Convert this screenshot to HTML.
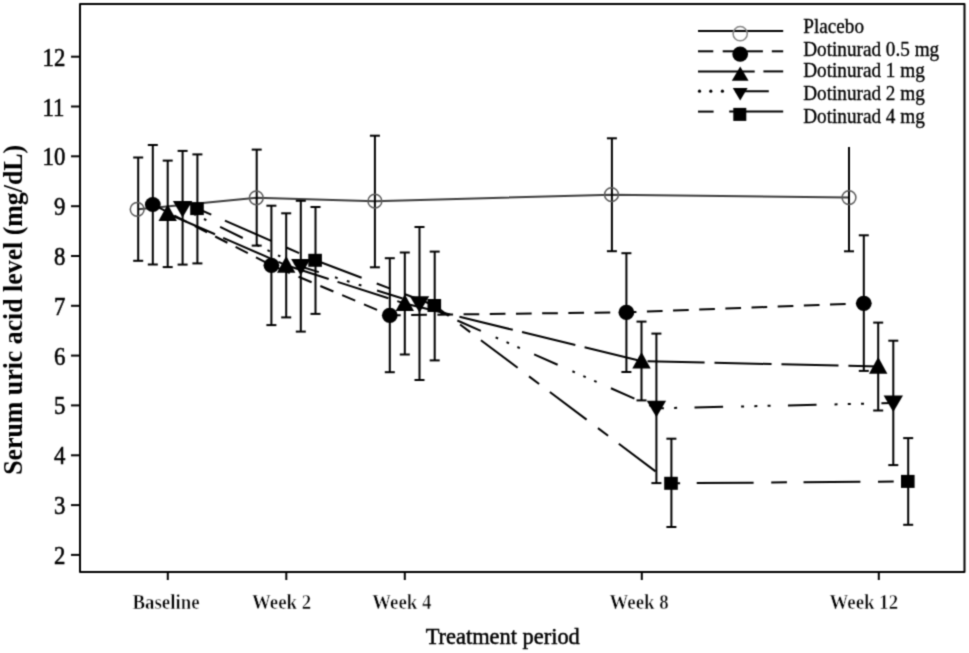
<!DOCTYPE html>
<html><head><meta charset="utf-8"><style>html,body{margin:0;padding:0;background:#fff;overflow:hidden}svg{display:block}</style></head>
<body>
<svg width="969" height="653" viewBox="0 0 969 653">
<defs><filter id="sf" color-interpolation-filters="sRGB" filterUnits="userSpaceOnUse" x="0" y="0" width="969" height="653"><feConvolveMatrix order="3" kernelMatrix="0.0324 0.1152 0.0324 0.1152 0.4096 0.1152 0.0324 0.1152 0.0324" divisor="1" edgeMode="duplicate"/></filter></defs>
<g filter="url(#sf)">
<rect width="969" height="653" fill="#fff"/>
<polyline points="138.2,209.3 256.7,197.8 374.9,201.2 611.9,194.7 849.0,197.6" fill="none" stroke="#3c3c3c" stroke-width="2"/>
<path d="M154.05 205.14L166.27 211.40M174.44 215.59L186.65 221.86M194.82 226.04L207.04 232.31M215.21 236.49L227.43 242.76M235.60 246.95L247.81 253.21M255.98 257.40L268.20 263.66M276.72 267.54L289.79 273.07M298.53 276.76L311.61 282.28M320.35 285.97L333.42 291.49M342.16 295.18L355.24 300.70M363.98 304.40L377.05 309.92M385.80 313.61L389.80 315.30M389.80 315.30L400.69 315.16M411.19 315.03L426.88 314.83M437.38 314.70L453.08 314.50M463.58 314.36L479.27 314.17M489.77 314.03L505.47 313.83M515.97 313.70L531.66 313.50M542.16 313.37L557.86 313.17M568.36 313.04L584.05 312.84M594.55 312.70L610.25 312.50M620.75 312.37L626.40 312.30M626.40 312.30L636.43 311.92M646.91 311.52L662.58 310.93M673.06 310.53L688.73 309.94M699.22 309.54L714.89 308.95M725.37 308.55L741.04 307.95M751.52 307.56L767.19 306.96M777.68 306.57L793.35 305.97M803.83 305.57L819.50 304.98M829.98 304.58L845.65 303.99M856.14 303.59L863.80 303.30" fill="none" stroke="#000" stroke-width="2"/>
<path d="M167.97 213.72L215.03 234.25M223.19 237.81L270.26 258.34M278.42 261.90L286.20 265.30M286.20 265.30L328.70 278.99M337.53 281.83L388.45 298.24M397.28 301.08L404.80 303.50M404.80 303.50L450.24 314.58M459.48 316.83L512.79 329.82M522.03 332.08L575.34 345.07M584.58 347.32L637.89 360.32M647.53 361.33L704.59 362.59M714.49 362.80L771.55 364.06M781.45 364.27L838.51 365.53M848.41 365.75L878.20 366.40" fill="none" stroke="#000" stroke-width="2"/>
<path d="M183.00 208.70L185.38 209.86M193.49 213.84L195.86 215.01M203.97 218.99L206.35 220.15M220.11 226.91L242.75 238.01M256.99 245.00L259.36 246.17M267.47 250.15L269.85 251.31M277.96 255.29L280.33 256.46M294.10 263.21L300.80 266.50M300.80 266.50L318.84 272.17M334.98 277.24L337.66 278.08M346.85 280.97L349.54 281.82M358.73 284.70L361.42 285.55M377.01 290.45L402.64 298.50M418.78 303.57L419.50 303.80M419.50 303.80L421.30 304.59M429.72 308.31L432.18 309.39M440.60 313.11L443.06 314.19M457.35 320.50L480.84 330.86M495.63 337.38L498.09 338.47M506.51 342.18L508.97 343.27M517.39 346.98L519.85 348.07M534.14 354.37L557.63 364.73M572.42 371.25L574.88 372.34M583.30 376.05L585.76 377.14M594.18 380.85L596.64 381.94M610.93 388.24L634.42 398.61M649.21 405.13L651.67 406.21M660.89 408.20L663.89 408.14M674.13 407.91L677.13 407.84M694.52 407.46L723.10 406.84M741.09 406.44L744.09 406.38M754.33 406.15L757.33 406.08M767.58 405.86L770.57 405.79M787.96 405.41L816.55 404.78M834.54 404.39L837.53 404.32M847.78 404.10L850.78 404.03M861.02 403.81L864.02 403.74M881.41 403.36L893.30 403.10" fill="none" stroke="#000" stroke-width="2"/>
<path d="M198.35 209.01L211.27 214.67M224.94 220.66L271.79 241.16M286.28 247.51L299.20 253.17M312.87 259.15L315.50 260.30M315.50 260.30L361.61 277.78M376.72 283.51L390.20 288.63M404.45 294.03L434.70 305.50M434.70 305.50L448.69 316.01M460.05 324.54L470.19 332.16M480.90 340.21L517.64 367.80M529.00 376.34L539.14 383.95M549.85 392.00L586.59 419.59M597.95 428.13L608.09 435.74M618.80 443.79L655.54 471.38M666.90 479.92L671.40 483.30M671.40 483.30L680.13 483.23M696.72 483.10L753.62 482.64M771.22 482.50L786.92 482.37M803.52 482.24L860.41 481.78M878.01 481.64L893.71 481.52" fill="none" stroke="#000" stroke-width="2"/>
<line x1="138.2" y1="157.5" x2="138.2" y2="260.8" stroke="#000" stroke-width="2"/>
<line x1="133.2" y1="157.5" x2="143.2" y2="157.5" stroke="#000" stroke-width="2"/>
<line x1="133.2" y1="260.8" x2="143.2" y2="260.8" stroke="#000" stroke-width="2"/>
<line x1="256.7" y1="149.6" x2="256.7" y2="245.6" stroke="#000" stroke-width="2"/>
<line x1="251.7" y1="149.6" x2="261.7" y2="149.6" stroke="#000" stroke-width="2"/>
<line x1="251.7" y1="245.6" x2="261.7" y2="245.6" stroke="#000" stroke-width="2"/>
<line x1="374.9" y1="135.7" x2="374.9" y2="267.3" stroke="#000" stroke-width="2"/>
<line x1="369.9" y1="135.7" x2="379.9" y2="135.7" stroke="#000" stroke-width="2"/>
<line x1="369.9" y1="267.3" x2="379.9" y2="267.3" stroke="#000" stroke-width="2"/>
<line x1="611.9" y1="138.3" x2="611.9" y2="251.2" stroke="#000" stroke-width="2"/>
<line x1="606.9" y1="138.3" x2="616.9" y2="138.3" stroke="#000" stroke-width="2"/>
<line x1="606.9" y1="251.2" x2="616.9" y2="251.2" stroke="#000" stroke-width="2"/>
<line x1="849.0" y1="147.0" x2="849.0" y2="251.3" stroke="#000" stroke-width="2"/>
<line x1="844.0" y1="251.3" x2="854.0" y2="251.3" stroke="#000" stroke-width="2"/>
<line x1="152.8" y1="145.0" x2="152.8" y2="264.5" stroke="#000" stroke-width="2"/>
<line x1="147.8" y1="145.0" x2="157.8" y2="145.0" stroke="#000" stroke-width="2"/>
<line x1="147.8" y1="264.5" x2="157.8" y2="264.5" stroke="#000" stroke-width="2"/>
<line x1="271.4" y1="205.7" x2="271.4" y2="325.1" stroke="#000" stroke-width="2"/>
<line x1="266.4" y1="205.7" x2="276.4" y2="205.7" stroke="#000" stroke-width="2"/>
<line x1="266.4" y1="325.1" x2="276.4" y2="325.1" stroke="#000" stroke-width="2"/>
<line x1="389.8" y1="258.2" x2="389.8" y2="372.2" stroke="#000" stroke-width="2"/>
<line x1="384.8" y1="258.2" x2="394.8" y2="258.2" stroke="#000" stroke-width="2"/>
<line x1="384.8" y1="372.2" x2="394.8" y2="372.2" stroke="#000" stroke-width="2"/>
<line x1="626.4" y1="253.2" x2="626.4" y2="372.0" stroke="#000" stroke-width="2"/>
<line x1="621.4" y1="253.2" x2="631.4" y2="253.2" stroke="#000" stroke-width="2"/>
<line x1="621.4" y1="372.0" x2="631.4" y2="372.0" stroke="#000" stroke-width="2"/>
<line x1="863.8" y1="235.3" x2="863.8" y2="370.9" stroke="#000" stroke-width="2"/>
<line x1="858.8" y1="235.3" x2="868.8" y2="235.3" stroke="#000" stroke-width="2"/>
<line x1="858.8" y1="370.9" x2="868.8" y2="370.9" stroke="#000" stroke-width="2"/>
<line x1="167.7" y1="160.6" x2="167.7" y2="267.1" stroke="#000" stroke-width="2"/>
<line x1="162.7" y1="160.6" x2="172.7" y2="160.6" stroke="#000" stroke-width="2"/>
<line x1="162.7" y1="267.1" x2="172.7" y2="267.1" stroke="#000" stroke-width="2"/>
<line x1="286.2" y1="213.3" x2="286.2" y2="317.4" stroke="#000" stroke-width="2"/>
<line x1="281.2" y1="213.3" x2="291.2" y2="213.3" stroke="#000" stroke-width="2"/>
<line x1="281.2" y1="317.4" x2="291.2" y2="317.4" stroke="#000" stroke-width="2"/>
<line x1="404.8" y1="252.5" x2="404.8" y2="354.5" stroke="#000" stroke-width="2"/>
<line x1="399.8" y1="252.5" x2="409.8" y2="252.5" stroke="#000" stroke-width="2"/>
<line x1="399.8" y1="354.5" x2="409.8" y2="354.5" stroke="#000" stroke-width="2"/>
<line x1="641.5" y1="321.6" x2="641.5" y2="400.4" stroke="#000" stroke-width="2"/>
<line x1="636.5" y1="321.6" x2="646.5" y2="321.6" stroke="#000" stroke-width="2"/>
<line x1="636.5" y1="400.4" x2="646.5" y2="400.4" stroke="#000" stroke-width="2"/>
<line x1="878.2" y1="322.6" x2="878.2" y2="410.5" stroke="#000" stroke-width="2"/>
<line x1="873.2" y1="322.6" x2="883.2" y2="322.6" stroke="#000" stroke-width="2"/>
<line x1="873.2" y1="410.5" x2="883.2" y2="410.5" stroke="#000" stroke-width="2"/>
<line x1="182.6" y1="150.9" x2="182.6" y2="264.6" stroke="#000" stroke-width="2"/>
<line x1="177.6" y1="150.9" x2="187.6" y2="150.9" stroke="#000" stroke-width="2"/>
<line x1="177.6" y1="264.6" x2="187.6" y2="264.6" stroke="#000" stroke-width="2"/>
<line x1="300.8" y1="200.8" x2="300.8" y2="331.6" stroke="#000" stroke-width="2"/>
<line x1="295.8" y1="200.8" x2="305.8" y2="200.8" stroke="#000" stroke-width="2"/>
<line x1="295.8" y1="331.6" x2="305.8" y2="331.6" stroke="#000" stroke-width="2"/>
<line x1="419.5" y1="227.0" x2="419.5" y2="380.0" stroke="#000" stroke-width="2"/>
<line x1="414.5" y1="227.0" x2="424.5" y2="227.0" stroke="#000" stroke-width="2"/>
<line x1="414.5" y1="380.0" x2="424.5" y2="380.0" stroke="#000" stroke-width="2"/>
<line x1="656.4" y1="333.6" x2="656.4" y2="483.1" stroke="#000" stroke-width="2"/>
<line x1="651.4" y1="333.6" x2="661.4" y2="333.6" stroke="#000" stroke-width="2"/>
<line x1="651.4" y1="483.1" x2="661.4" y2="483.1" stroke="#000" stroke-width="2"/>
<line x1="893.3" y1="340.7" x2="893.3" y2="465.1" stroke="#000" stroke-width="2"/>
<line x1="888.3" y1="340.7" x2="898.3" y2="340.7" stroke="#000" stroke-width="2"/>
<line x1="888.3" y1="465.1" x2="898.3" y2="465.1" stroke="#000" stroke-width="2"/>
<line x1="197.4" y1="154.4" x2="197.4" y2="263.4" stroke="#000" stroke-width="2"/>
<line x1="192.4" y1="154.4" x2="202.4" y2="154.4" stroke="#000" stroke-width="2"/>
<line x1="192.4" y1="263.4" x2="202.4" y2="263.4" stroke="#000" stroke-width="2"/>
<line x1="315.5" y1="207.0" x2="315.5" y2="313.9" stroke="#000" stroke-width="2"/>
<line x1="310.5" y1="207.0" x2="320.5" y2="207.0" stroke="#000" stroke-width="2"/>
<line x1="310.5" y1="313.9" x2="320.5" y2="313.9" stroke="#000" stroke-width="2"/>
<line x1="434.7" y1="251.6" x2="434.7" y2="360.4" stroke="#000" stroke-width="2"/>
<line x1="429.7" y1="251.6" x2="439.7" y2="251.6" stroke="#000" stroke-width="2"/>
<line x1="429.7" y1="360.4" x2="439.7" y2="360.4" stroke="#000" stroke-width="2"/>
<line x1="671.4" y1="438.7" x2="671.4" y2="527.0" stroke="#000" stroke-width="2"/>
<line x1="666.4" y1="438.7" x2="676.4" y2="438.7" stroke="#000" stroke-width="2"/>
<line x1="666.4" y1="527.0" x2="676.4" y2="527.0" stroke="#000" stroke-width="2"/>
<line x1="908.2" y1="438.1" x2="908.2" y2="524.8" stroke="#000" stroke-width="2"/>
<line x1="903.2" y1="438.1" x2="913.2" y2="438.1" stroke="#000" stroke-width="2"/>
<line x1="903.2" y1="524.8" x2="913.2" y2="524.8" stroke="#000" stroke-width="2"/>
<circle cx="137.2" cy="209.3" r="6.9" fill="none" stroke="#5a5a5a" stroke-width="1.5"/>
<circle cx="256.3" cy="197.8" r="6.9" fill="none" stroke="#5a5a5a" stroke-width="1.5"/>
<circle cx="374.9" cy="201.2" r="6.9" fill="none" stroke="#5a5a5a" stroke-width="1.5"/>
<circle cx="611.5" cy="194.7" r="6.9" fill="none" stroke="#5a5a5a" stroke-width="1.5"/>
<circle cx="849.0" cy="197.6" r="6.9" fill="none" stroke="#5a5a5a" stroke-width="1.5"/>
<ellipse cx="152.8" cy="204.5" rx="7.9" ry="7.6" fill="#000"/>
<ellipse cx="271.4" cy="265.3" rx="7.9" ry="7.6" fill="#000"/>
<ellipse cx="389.8" cy="315.3" rx="7.9" ry="7.6" fill="#000"/>
<ellipse cx="626.4" cy="312.3" rx="7.9" ry="7.6" fill="#000"/>
<ellipse cx="863.8" cy="303.3" rx="7.9" ry="7.6" fill="#000"/>
<polygon points="167.70,204.30 176.90,221.00 158.50,221.00" fill="#000"/>
<polygon points="286.20,256.00 295.40,272.70 277.00,272.70" fill="#000"/>
<polygon points="404.80,294.20 414.00,310.90 395.60,310.90" fill="#000"/>
<polygon points="641.50,351.90 650.70,368.60 632.30,368.60" fill="#000"/>
<polygon points="878.20,357.10 887.40,373.80 869.00,373.80" fill="#000"/>
<polygon points="182.60,217.40 192.30,200.90 172.90,200.90" fill="#000"/>
<polygon points="300.80,275.40 310.50,258.90 291.10,258.90" fill="#000"/>
<polygon points="419.50,312.70 429.20,296.20 409.80,296.20" fill="#000"/>
<polygon points="656.40,417.20 666.10,400.70 646.70,400.70" fill="#000"/>
<polygon points="893.30,412.00 903.00,395.50 883.60,395.50" fill="#000"/>
<rect x="190.20" y="202.10" width="13.6" height="13.0" fill="#000"/>
<rect x="308.30" y="253.80" width="13.6" height="13.0" fill="#000"/>
<rect x="427.50" y="299.00" width="13.6" height="13.0" fill="#000"/>
<rect x="664.20" y="476.80" width="13.6" height="13.0" fill="#000"/>
<rect x="901.00" y="474.90" width="13.6" height="13.0" fill="#000"/>
<rect x="80" y="4" width="884.5" height="568" fill="none" stroke="#000" stroke-width="2" stroke-linejoin="round"/>
<line x1="71" y1="554.9" x2="80" y2="554.9" stroke="#000" stroke-width="2"/>
<text transform="translate(53.91,563.90) scale(0.93,1)" font-family="Liberation Serif" font-size="24.5" stroke="#000" stroke-width="0.55">2</text>
<line x1="71" y1="505.1" x2="80" y2="505.1" stroke="#000" stroke-width="2"/>
<text transform="translate(53.91,514.08) scale(0.93,1)" font-family="Liberation Serif" font-size="24.5" stroke="#000" stroke-width="0.55">3</text>
<line x1="71" y1="455.3" x2="80" y2="455.3" stroke="#000" stroke-width="2"/>
<text transform="translate(53.91,464.26) scale(0.93,1)" font-family="Liberation Serif" font-size="24.5" stroke="#000" stroke-width="0.55">4</text>
<line x1="71" y1="405.4" x2="80" y2="405.4" stroke="#000" stroke-width="2"/>
<text transform="translate(53.91,414.44) scale(0.93,1)" font-family="Liberation Serif" font-size="24.5" stroke="#000" stroke-width="0.55">5</text>
<line x1="71" y1="355.6" x2="80" y2="355.6" stroke="#000" stroke-width="2"/>
<text transform="translate(53.91,364.62) scale(0.93,1)" font-family="Liberation Serif" font-size="24.5" stroke="#000" stroke-width="0.55">6</text>
<line x1="71" y1="305.8" x2="80" y2="305.8" stroke="#000" stroke-width="2"/>
<text transform="translate(53.91,314.80) scale(0.93,1)" font-family="Liberation Serif" font-size="24.5" stroke="#000" stroke-width="0.55">7</text>
<line x1="71" y1="256.0" x2="80" y2="256.0" stroke="#000" stroke-width="2"/>
<text transform="translate(53.91,264.98) scale(0.93,1)" font-family="Liberation Serif" font-size="24.5" stroke="#000" stroke-width="0.55">8</text>
<line x1="71" y1="206.2" x2="80" y2="206.2" stroke="#000" stroke-width="2"/>
<text transform="translate(53.91,215.16) scale(0.93,1)" font-family="Liberation Serif" font-size="24.5" stroke="#000" stroke-width="0.55">9</text>
<line x1="71" y1="156.3" x2="80" y2="156.3" stroke="#000" stroke-width="2"/>
<text transform="translate(42.52,165.34) scale(0.93,1)" font-family="Liberation Serif" font-size="24.5" stroke="#000" stroke-width="0.55">10</text>
<line x1="71" y1="106.5" x2="80" y2="106.5" stroke="#000" stroke-width="2"/>
<text transform="translate(42.52,115.52) scale(0.93,1)" font-family="Liberation Serif" font-size="24.5" stroke="#000" stroke-width="0.55">11</text>
<line x1="71" y1="56.7" x2="80" y2="56.7" stroke="#000" stroke-width="2"/>
<text transform="translate(42.52,65.70) scale(0.93,1)" font-family="Liberation Serif" font-size="24.5" stroke="#000" stroke-width="0.55">12</text>
<line x1="167.8" y1="572" x2="167.8" y2="580" stroke="#000" stroke-width="2"/>
<line x1="286.3" y1="572" x2="286.3" y2="580" stroke="#000" stroke-width="2"/>
<line x1="404.8" y1="572" x2="404.8" y2="580" stroke="#000" stroke-width="2"/>
<line x1="641.8" y1="572" x2="641.8" y2="580" stroke="#000" stroke-width="2"/>
<line x1="878.8" y1="572" x2="878.8" y2="580" stroke="#000" stroke-width="2"/>
<text transform="translate(132.52,609.30) scale(0.92,1)" font-family="Liberation Serif" font-weight="bold" font-size="20.5" stroke="#fff" stroke-width="0.5">Baseline</text>
<text transform="translate(252.01,609.30) scale(0.92,1)" font-family="Liberation Serif" font-weight="bold" font-size="20.5" stroke="#fff" stroke-width="0.5">Week 2</text>
<text transform="translate(372.21,609.30) scale(0.92,1)" font-family="Liberation Serif" font-weight="bold" font-size="20.5" stroke="#fff" stroke-width="0.5">Week 4</text>
<text transform="translate(609.51,609.30) scale(0.92,1)" font-family="Liberation Serif" font-weight="bold" font-size="20.5" stroke="#fff" stroke-width="0.5">Week 8</text>
<text transform="translate(829.51,609.30) scale(0.92,1)" font-family="Liberation Serif" font-weight="bold" font-size="20.5" stroke="#fff" stroke-width="0.5">Week 12</text>
<text transform="translate(425.65,644.40) scale(0.975,1)" font-family="Liberation Serif" font-size="23" stroke="#000" stroke-width="0.5">Treatment period</text>
<text transform="translate(21.8,474.79) rotate(-90) scale(0.975,1)" font-family="Liberation Serif" font-weight="bold" font-size="26.5">Serum uric acid level (mg/dL)</text>
<line x1="698" y1="30.9" x2="783.2" y2="30.9" stroke="#000" stroke-width="2"/>
<circle cx="740.2" cy="33.699999999999996" r="7.1" fill="none" stroke="#858585" stroke-width="1.5"/>
<text transform="translate(803.22,32.90) scale(0.873,1)" font-family="Liberation Serif" font-size="22" stroke="#000" stroke-width="0.35">Placebo</text>
<line x1="698" y1="51.3" x2="713.3" y2="51.3" stroke="#000" stroke-width="2"/>
<line x1="722.7" y1="51.3" x2="738" y2="51.3" stroke="#000" stroke-width="2"/>
<line x1="747" y1="51.3" x2="762.9" y2="51.3" stroke="#000" stroke-width="2"/>
<line x1="771.8" y1="51.3" x2="783.2" y2="51.3" stroke="#000" stroke-width="2"/>
<ellipse cx="740.2" cy="54.099999999999994" rx="7.9" ry="7.6" fill="#000"/>
<text transform="translate(803.22,55.90) scale(0.873,1)" font-family="Liberation Serif" font-size="22" stroke="#000" stroke-width="0.35">Dotinurad 0.5 mg</text>
<line x1="698" y1="71.4" x2="754.7" y2="71.4" stroke="#000" stroke-width="2"/>
<line x1="763.4" y1="71.4" x2="783.2" y2="71.4" stroke="#000" stroke-width="2"/>
<polygon points="740.20,66.60 748.60,80.80 731.80,80.80" fill="#000"/>
<text transform="translate(803.22,77.00) scale(0.873,1)" font-family="Liberation Serif" font-size="22" stroke="#000" stroke-width="0.35">Dotinurad 1 mg</text>
<circle cx="699.50" cy="91.2" r="1.6" fill="#000"/>
<circle cx="710.80" cy="91.2" r="1.6" fill="#000"/>
<circle cx="722.40" cy="91.2" r="1.6" fill="#000"/>
<line x1="735" y1="91.2" x2="768.8" y2="91.2" stroke="#000" stroke-width="2"/>
<polygon points="740.20,100.40 747.60,87.90 732.80,87.90" fill="#000"/>
<text transform="translate(803.22,99.50) scale(0.873,1)" font-family="Liberation Serif" font-size="22" stroke="#000" stroke-width="0.35">Dotinurad 2 mg</text>
<line x1="698" y1="111.6" x2="713.6" y2="111.6" stroke="#000" stroke-width="2"/>
<line x1="729.2" y1="111.6" x2="783.2" y2="111.6" stroke="#000" stroke-width="2"/>
<rect x="733.30" y="107.90" width="13.0" height="13.0" fill="#000"/>
<text transform="translate(803.22,122.60) scale(0.873,1)" font-family="Liberation Serif" font-size="22" stroke="#000" stroke-width="0.35">Dotinurad 4 mg</text>
</g>
</svg>
</body></html>
